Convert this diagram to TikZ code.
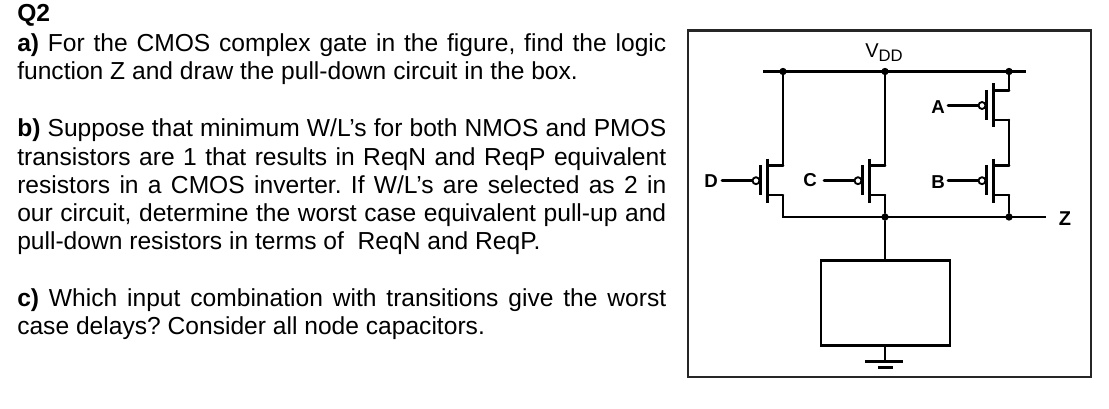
\documentclass[tikz,border=0pt]{standalone}
\usepackage{fontspec}
\setmainfont{Liberation Sans}
\tikzset{
  wire/.style={line width=1.95pt,line cap=round,line join=miter},
  rail/.style={line width=2.2pt},
  dotn/.style={circle,fill=black,inner sep=0pt,minimum size=5.5pt},
  bubble/.style={circle,draw=black,line width=1.4pt,fill=white,inner sep=0pt,minimum size=5.2pt},
  pin/.style={font=\fontsize{14}{16}\selectfont\bfseries,inner sep=0pt,anchor=center},
  para/.style={anchor=north west,inner sep=0pt,text width=486.75pt,align=justify,font=\fontsize{18.45}{21.2}\selectfont},
  frameb/.style={draw=black!85,line width=1.7pt},
}
\newcommand{\pmos}[3]{%
  % #1 name, #2 right x, #3 centre y
  \coordinate (#1s) at (#2,#3-15);
  \coordinate (#1d) at (#2,#3+14.5);
  \coordinate (#1ct) at (#2-15.3,#3-22);
  \coordinate (#1cb) at (#2-15.3,#3+22);
  \coordinate (#1gt) at (#2-22.8,#3-15.5);
  \coordinate (#1gb) at (#2-22.8,#3+14.5);
  \coordinate (#1in) at (#2-61,#3);
  \node[bubble] (#1b) at (#2-27,#3) {};
  \draw[wire,line cap=butt] (#1ct) -- (#1cb);
  \draw[wire,line cap=butt] (#1gt) -- (#1gb);
  \draw[wire] (#1in) -- (#1b.west);
  \draw[wire] (#1s) -- (#1s-|#1ct);
  \draw[wire] (#1d) -- (#1d-|#1ct);
}
\begin{document}
\begin{tikzpicture}[x=0.75pt,y=-0.75pt]
\useasboundingbox (0,0) rectangle (1109,409);
\fill[white] (0,0) rectangle (1109,409);
% text
\node[anchor=north west,inner sep=0pt,font=\fontsize{18.45}{21}\selectfont\bfseries] (q) at (17,4.2) {Q2};
\node[para] (pa) at (17,33) {\frenchspacing\textbf{a)} For the CMOS complex gate in the figure, find the logic\linebreak function Z and draw the pull-down circuit in the box.};
\node[para] (pb) at (17,118.7) {\frenchspacing\textbf{b)} Suppose that minimum W/L’s for both NMOS and PMOS\linebreak transistors are 1 that results in ReqN and ReqP equivalent\linebreak resistors in a CMOS inverter. If W/L’s are selected as 2 in\linebreak our circuit, determine the worst case equivalent pull-up and\linebreak pull-down resistors in terms of\ \ ReqN and ReqP.};
\node[para] (pc) at (17,288) {\frenchspacing\textbf{c)} Which input combination with transitions give the worst\linebreak case delays? Consider all node capacitors.};
% frame
\node[frameb,minimum width=302.5pt,minimum height=259.5pt,inner sep=0pt,anchor=north west] (frm) at (686.5,29.5) {};
\node[inner sep=0pt,font=\fontsize{15}{17}\selectfont] (vdd) at (884,53) {V\raisebox{-0.4ex}{\fontsize{12.5}{14}\selectfont DD}};
% rails
\coordinate (rl) at (763,71.5);
\coordinate (rr) at (1026,71.5);
\draw[rail] (rl) -- (rr);
\node[dotn] (v1) at (783,71.5) {};
\node[dotn] (v2) at (885,71.5) {};
\node[dotn] (v3) at (1009,71.5) {};
% transistors
\pmos{D}{783}{180.7}
\pmos{C}{885}{180.7}
\pmos{A}{1009}{105.5}
\pmos{B}{1009}{180.7}
\node[pin] (lD) at (711,181) {D};
\node[pin] (lC) at (810,180.5) {C};
\node[pin] (lA) at (938,107) {A};
\node[pin] (lB) at (938,182) {B};
% vertical wires
\draw[wire] (v1) -- (Ds);
\draw[wire] (v2) -- (Cs);
\draw[wire] (v3) -- (As);
\draw[wire] (Ad) -- (Bs);
% output rail
\node[dotn] (n2) at (885,217) {};
\node[dotn] (n3) at (1009,217) {};
\coordinate (n1) at (783,217);
\coordinate (zend) at (1046,217);
\node[inner sep=0pt,font=\fontsize{15}{17}\selectfont\bfseries] (Z) at (1065,218.5) {Z};
\draw[wire,line cap=butt] (Dd) -- (n1) -- (zend);
\draw[wire] (Cd) -- (n2);
\draw[wire] (Bd) -- (n3);
% pull-down box
\node[draw=black,line width=1.8pt,minimum width=97pt,minimum height=63.5pt,inner sep=0pt,anchor=north west] (pd) at (819.5,259.5) {};
\draw[wire] (n2) -- (n2|-pd.north);
\coordinate (g1) at (885,361.5);
\coordinate (g1l) at (865,361.5);
\coordinate (g1r) at (903,361.5);
\coordinate (g2l) at (878,367.5);
\coordinate (g2r) at (893,367.5);
\draw[wire] (g1|-pd.south) -- (g1);
\draw[wire,line cap=butt] (g1l) -- (g1r);
\draw[wire,line cap=butt] (g2l) -- (g2r);
\end{tikzpicture}
\end{document}
